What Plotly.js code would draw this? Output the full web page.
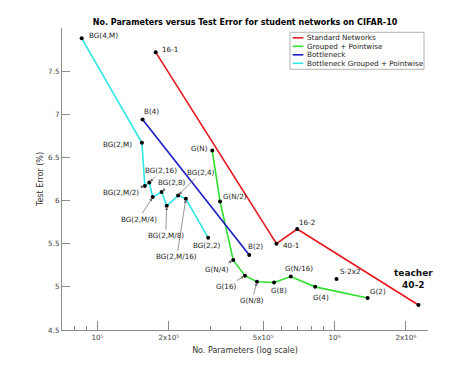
<!DOCTYPE html>
<html>
<head>
<meta charset="utf-8">
<script src="https://cdn.plot.ly/plotly-3.0.1.min.js"></script>
<style>html,body{margin:0;padding:0;background:#fff;}#chart{width:474px;height:371px;}</style>
</head>
<body>
<div id="chart"></div>
<script>
// ---------------- data ----------------
const seriesNames = ['Standard Networks', 'Grouped + Pointwise', 'Bottleneck', 'Bottleneck Grouped + Pointwise'];

const standardNames  = ['16-1', '40-1', '16-2', '40-2'];
const standardParams = [1.76e5, 5.69e5, 6.96e5, 2.26e6];
const standardErr    = [7.72, 5.50, 5.67, 4.79];

const groupedNames  = ['G(N)', 'G(N/2)', 'G(N/4)', 'G(16)', 'G(N/8)', 'G(8)', 'G(N/16)', 'G(4)', 'G(2)'];
const groupedParams = [3.05e5, 3.29e5, 3.74e5, 4.19e5, 4.71e5, 5.56e5, 6.54e5, 8.29e5, 1.38e6];
const groupedErr    = [6.58, 5.99, 5.31, 5.13, 5.06, 5.05, 5.12, 5.00, 4.87];

const bottleneckNames  = ['B(4)', 'B(2)'];
const bottleneckParams = [1.55e5, 4.37e5];
const bottleneckErr    = [6.94, 5.37];

const bgNames  = ['BG(4,M)', 'BG(2,M)', 'BG(2,M/2)', 'BG(2,16)', 'BG(2,M/4)', 'BG(2,8)', 'BG(2,M/8)', 'BG(2,4)', 'BG(2,M/16)', 'BG(2,2)'];
const bgParams = [8.58e4, 1.54e5, 1.585e5, 1.655e5, 1.71e5, 1.865e5, 1.96e5, 2.19e5, 2.36e5, 2.93e5];
const bgErr    = [7.88, 6.67, 6.17, 6.21, 6.04, 6.10, 5.94, 6.06, 6.02, 5.57];

const extraNames  = ['S-2x2'];
const extraParams = [1.02e6];
const extraErr    = [5.09];

const teacherLabel = 'teacher<br>40-2';

const xTickVals  = [1e5, 2e5, 5e5, 1e6, 2e6];
const xTickText  = ['10\u2075', '2x10\u2075', '5x10\u2075', '10\u2076', '2x10\u2076'];
const xMinorVals = [8e4, 9e4, 3e5, 4e5, 6e5, 7e5, 8e5, 9e5];
const yTickVals  = [4.5, 5, 5.5, 6, 6.5, 7, 7.5];
const yTickText  = ['4.5', '5', '5.5', '6', '6.5', '7', '7.5'];

// ---------------- styles ----------------
const colors = ['#e8161c', '#2fe02f', '#1a1ac4', '#2ee6e6'];
const FONT = 'DejaVu Sans, sans-serif';
const SMALL = 7.2;
const M = {l: 62, r: 46, t: 28, b: 41};
const W = 474, H = 371;
const PW = W - M.l - M.r, PH = H - M.t - M.b;
const px2x = p => (p - M.l) / PW;
const px2y = p => (H - M.b - p) / PH;

// label placement (pixels)
const plainLabel = {
  'BG(4,M)':  {a: 'left',   dx: 5,  dy: 3},
  '16-1':     {a: 'left',   dx: 4,  dy: 3},
  'B(4)':     {a: 'left',   dx: -1, dy: 8},
  'BG(2,M)':  {a: 'right',  dx: -8, dy: -2},
  'G(N)':     {a: 'right',  dx: -2, dy: 2},
  'G(N/2)':   {a: 'left',   dx: 1,  dy: 5},
  'B(2)':     {a: 'left',   dx: -3, dy: 8},
  'BG(2,2)':  {a: 'center', dx: -1, dy: -8},
  '40-1':     {a: 'left',   dx: 5,  dy: -2},
  '16-2':     {a: 'left',   dx: 0,  dy: 7},
  'G(N/16)':  {a: 'center', dx: 8,  dy: 8},
  'G(8)':     {a: 'center', dx: 5,  dy: -8},
  'G(4)':     {a: 'center', dx: 6,  dy: -11},
  'G(2)':     {a: 'left',   dx: 0,  dy: 7},
  'S-2x2':    {a: 'left',   dx: 1,  dy: 8}
};
const arrowLabel = {
  'BG(2,M/2)':  {ax: -24, ay: 7},
  'BG(2,16)':   {ax: 12,  ay: -12},
  'BG(2,8)':    {ax: 10,  ay: -9},
  'BG(2,4)':    {ax: 23,  ay: -23},
  'BG(2,M/4)':  {ax: -14, ay: 22},
  'BG(2,M/8)':  {ax: -1,  ay: 30},
  'BG(2,M/16)': {ax: -9,  ay: 58},
  'G(N/4)':     {ax: -16, ay: 9},
  'G(16)':      {ax: -18, ay: 11},
  'G(N/8)':     {ax: -5,  ay: 19}
};

function lineTrace(name, xs, ys, color) {
  return {
    type: 'scatter', mode: 'lines+markers', name: name, x: xs, y: ys,
    line: {color: color, width: 1.6},
    marker: {color: '#000', size: 4},
    showlegend: false, hoverinfo: 'skip'
  };
}

const traces = [
  lineTrace(seriesNames[0], standardParams, standardErr, colors[0]),
  lineTrace(seriesNames[1], groupedParams, groupedErr, colors[1]),
  lineTrace(seriesNames[2], bottleneckParams, bottleneckErr, colors[2]),
  lineTrace(seriesNames[3], bgParams, bgErr, colors[3]),
  {type: 'scatter', mode: 'markers', x: extraParams, y: extraErr, marker: {color: '#000', size: 4}, showlegend: false, hoverinfo: 'skip'}
];

const annotations = [];
function addLabels(names, xs, ys) {
  names.forEach((n, i) => {
    const X = Math.log10(xs[i]), Y = ys[i];
    if (plainLabel[n]) {
      const s = plainLabel[n];
      annotations.push({x: X, y: Y, xref: 'x', yref: 'y', text: n, showarrow: false,
        xanchor: s.a, yanchor: 'middle', xshift: s.dx, yshift: s.dy,
        font: {family: FONT, size: SMALL, color: '#222'}});
    } else if (arrowLabel[n]) {
      const s = arrowLabel[n];
      annotations.push({x: X, y: Y, xref: 'x', yref: 'y', text: n, showarrow: true,
        ax: s.ax, ay: s.ay, arrowhead: 2, arrowsize: 0.9, arrowwidth: 0.7, arrowcolor: '#666',
        standoff: 1, font: {family: FONT, size: SMALL, color: '#222'}});
    }
  });
}
addLabels(standardNames, standardParams, standardErr);
addLabels(groupedNames, groupedParams, groupedErr);
addLabels(bottleneckNames, bottleneckParams, bottleneckErr);
addLabels(bgNames, bgParams, bgErr);
addLabels(extraNames, extraParams, extraErr);
// teacher label at the last standard network
const tIdx = standardNames.length - 1;
annotations.push({x: Math.log10(standardParams[tIdx]), y: standardErr[tIdx], xref: 'x', yref: 'y',
  text: '<b>' + teacherLabel + '</b>', showarrow: false, xanchor: 'center', yanchor: 'middle',
  xshift: -4.5, yshift: 26, font: {family: FONT, size: 9, color: '#111'}});

// custom compact legend
const shapes = [];
const LG = {x0: 290, x1: 424, y0: 32.3, y1: 69.3, lineX0: 292.7, lineX1: 303.3, textX: 304.5, rowY0: 37.8, rowDY: 8.5};
shapes.push({type: 'rect', xref: 'paper', yref: 'paper', x0: px2x(LG.x0), x1: px2x(LG.x1), y0: px2y(LG.y1), y1: px2y(LG.y0),
  line: {color: '#a0a0a0', width: 0.8}, fillcolor: '#fff', layer: 'above'});
seriesNames.forEach((n, i) => {
  const yy = px2y(LG.rowY0 + i * LG.rowDY);
  shapes.push({type: 'line', xref: 'paper', yref: 'paper', x0: px2x(LG.lineX0), x1: px2x(LG.lineX1), y0: yy, y1: yy,
    line: {color: colors[i], width: 1.6}, layer: 'above'});
  annotations.push({xref: 'paper', yref: 'paper', x: px2x(LG.textX), y: yy, text: n, showarrow: false,
    xanchor: 'left', yanchor: 'middle', font: {family: FONT, size: SMALL, color: '#222'}});
});

const axisCommon = {
  showline: true, linecolor: '#8c8c8c', linewidth: 1, mirror: false,
  showgrid: false, zeroline: false, ticks: 'inside', tickcolor: '#8c8c8c', tickwidth: 1,
  tickfont: {family: FONT, size: SMALL, color: '#444'}
};

const layout = {
  width: W, height: H, margin: M, paper_bgcolor: '#fff', plot_bgcolor: '#fff',
  showlegend: false,
  title: {text: '<b>No. Parameters versus Test Error for student networks on CIFAR-10</b>',
    font: {family: FONT, size: 8, color: '#000'}, xref: 'paper', x: 0.5, xanchor: 'center',
    yref: 'container', y: 1 - 21.7 / H, yanchor: 'middle'},
  xaxis: Object.assign({}, axisCommon, {
    type: 'log', range: [Math.log10(70870), Math.log10(2.48e6)],
    tickmode: 'array', tickvals: xTickVals, ticktext: xTickText, ticklen: 9,
    minor: {tickmode: 'array', tickvals: xMinorVals, ticks: 'inside', ticklen: 4, tickcolor: '#8c8c8c', showgrid: false},
    title: {text: 'No. Parameters (log scale)', font: {family: FONT, size: 8, color: '#333'}, standoff: 6}
  }),
  yaxis: Object.assign({}, axisCommon, {
    range: [4.5, 8.0], tickmode: 'array', tickvals: yTickVals, ticktext: yTickText, ticklen: 8,
    title: {text: 'Test Error (%)', font: {family: FONT, size: 8, color: '#333'}, standoff: 3}
  }),
  annotations: annotations, shapes: shapes
};

Plotly.newPlot('chart', traces, layout, {staticPlot: true, displayModeBar: false});
</script>
</body>
</html>
